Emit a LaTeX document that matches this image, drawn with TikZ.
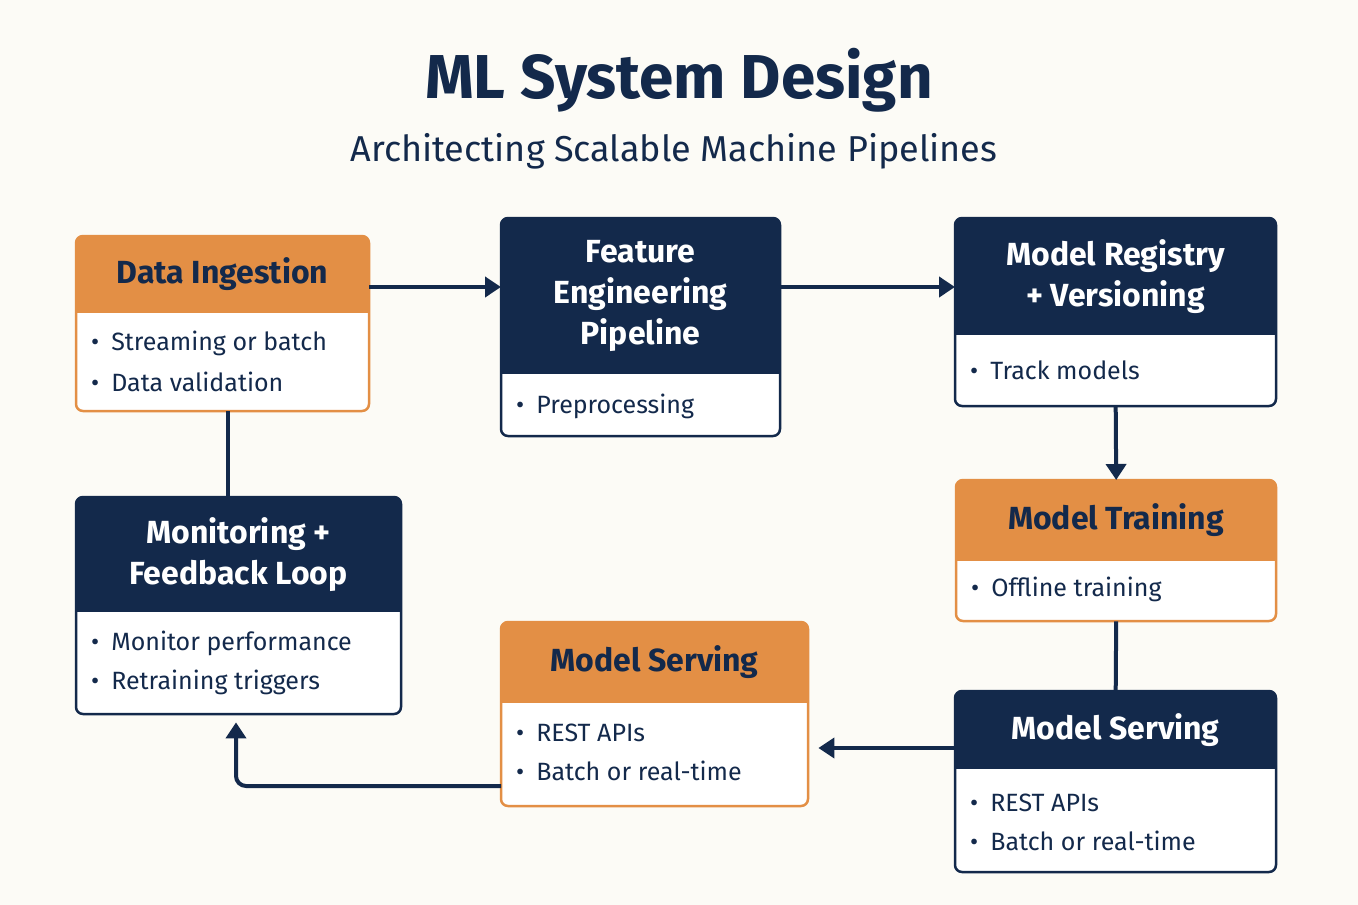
\documentclass[tikz,border=0pt]{standalone}
\usepackage{fontspec}
\setmainfont{Fira Sans}
\usetikzlibrary{arrows.meta}
\definecolor{navy}{HTML}{13294B}
\definecolor{org}{HTML}{E38F45}
\definecolor{bg}{HTML}{FCFBF6}
\tikzset{
 arr/.style={draw=navy,line width=4pt,-{Triangle[length=16pt,width=20pt]}},
 ln/.style={draw=navy,line width=4pt},
 ttl/.style={text=navy,font=\fontsize{30}{34}\selectfont\bfseries,align=center},
 hd/.style={text=#1,font=\fontsize{32}{41}\selectfont\bfseries,align=center},
 bl/.style={text=navy,font=\fontsize{25}{30}\selectfont,anchor=west,inner sep=0},
}
% name x1 y1 x2 y2 ysplit headcolor border titlecolor title
\newcommand{\mlbox}[9]{%
 \node[draw=none,minimum width={#4-#2},minimum height={#5-#3},anchor=north west,inner sep=0] (#1) at (#2,#3) {};
 \fill[white,rounded corners=7pt] (#2,#3) rectangle (#4,#5);
 \begin{scope}\clip[rounded corners=7pt] (#2,#3) rectangle (#4,#5);
 \fill[#7] (#2,#3) rectangle (#4,#6);\end{scope}
 \draw[#8,line width=2.5pt,rounded corners=7pt] (#2,#3) rectangle (#4,#5);
 \node[hd=#9] (#1-t) at ({(#2+#4)/2},{(#3+#6)/2}) {\titletext};
}
\newcommand{\bul}[3]{\node[bl] at (#1,#2) {\textbullet\hspace{12pt}#3};}
\begin{document}
\begin{tikzpicture}[x=1pt,y=-1pt]
\fill[bg] (0,0) rectangle (1358,905);
\useasboundingbox (0,0) rectangle (1358,905);
\node[text=navy,font=\fontsize{62}{70}\selectfont\bfseries] (title) at (679,80) {ML System Design};
\node[text=navy,font=\fontsize{36}{40}\selectfont] (sub) at (674,151) {Architecting Scalable Machine Pipelines};

\def\titletext{Data Ingestion}
\mlbox{di}{76}{236}{369}{411}{313}{org}{org}{navy}
\bul{91}{343}{Streaming or batch}\bul{91}{382}{Data validation}

\def\titletext{Feature\\Engineering\\Pipeline}
\mlbox{fe}{501}{218}{780}{436}{374}{navy}{navy}{white}
\bul{516}{406}{Preprocessing}

\def\titletext{Model Registry\\+ Versioning}
\mlbox{mr}{955}{218}{1276}{406}{335}{navy}{navy}{white}
\bul{970}{370}{Track models}

\def\titletext{Model Training}
\mlbox{mt}{956}{480}{1276}{621}{561}{org}{org}{navy}
\bul{971}{589}{Offline training}

\def\titletext{Model Serving}
\mlbox{msr}{955}{691}{1276}{872}{769}{navy}{navy}{white}
\bul{970}{803}{REST APIs}\bul{970}{841}{Batch or real-time}

\def\titletext{Model Serving}
\mlbox{msm}{501}{622}{808}{806}{703}{org}{org}{navy}
\bul{516}{733}{REST APIs}\bul{516}{771}{Batch or real-time}

\def\titletext{Monitoring +\\Feedback Loop}
\mlbox{mon}{76}{497}{401}{714}{612}{navy}{navy}{white}
\bul{91}{643}{Monitor performance}\bul{91}{682}{Retraining triggers}

\draw[arr] ([yshift=-51pt]di.north east) -- ([yshift=-69pt]fe.north west);
\draw[arr] ([yshift=-69pt]fe.north east) -- ([yshift=-69pt]mr.north west);
\draw[arr] (mr.south) -- (mt.north);
\draw[ln] (mt.south) -- (msr.north);
\draw[arr] ([yshift=-57pt]msr.north west) -- ([xshift=10pt,yshift=-126pt]msm.north east);
\draw[arr,rounded corners=10pt] ([yshift=-164pt]msm.north west) -- (236,786) -- ([xshift=160pt,yshift=-8pt]mon.south west);
\draw[ln] ([xshift=152pt]mon.north west) -- ([xshift=152pt]di.south west);
\end{tikzpicture}
\end{document}
